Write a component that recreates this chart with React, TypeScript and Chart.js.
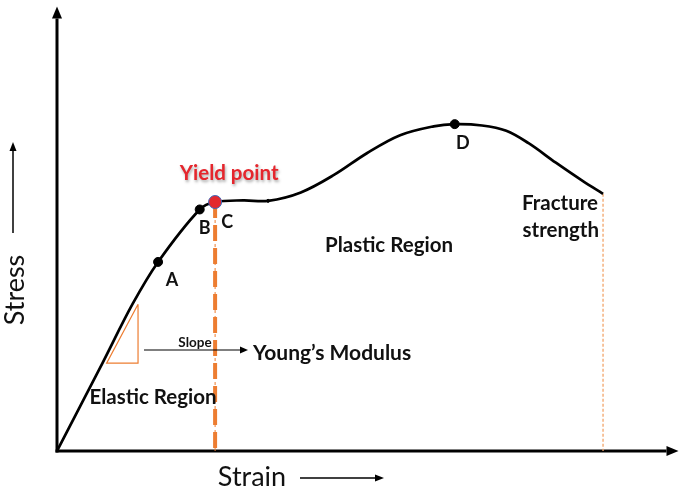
import { useEffect, useRef } from 'react';
import { Chart, registerables } from 'chart.js';

Chart.register(...registerables);

// Stress–strain curve (arbitrary units, 0..100 on both axes)
const strainValues = [0, 7.35, 12.14, 16.29, 23.0, 25.48, 30.03, 34.03, 39.3, 44.7, 50.0, 55.3, 60.7, 64.1, 68.5, 72.4, 76.0, 80.4, 84.7, 88.0];
const stressValues = [0, 19.87, 33.04, 42.63, 54.46, 56.14, 56.5, 56.4, 58.3, 62.3, 67.2, 71.2, 73.2, 73.7, 73.4, 72.2, 69.4, 65.0, 60.9, 58.0];

// Marked points A, B, D (black) and C (yield point, red)
const markLabels = ['A', 'B', 'D'];
const markIndices = [3, 4, 13];
const yieldIndex = 5;
const yieldLabel = 'C';
const plateauTickIndex = 7;
const fractureIndex = 19;

// Slope triangle
const triangleStrain = [13.06, 13.06, 8.0, 13.06];
const triangleStress = [33.1, 19.8, 19.8, 33.1];

const FONT = 'Lato, "Open Sans", sans-serif';

function arrow(ctx: CanvasRenderingContext2D, x1: number, y1: number, x2: number, y2: number, lw: number, head: number, hw: number) {
  const ang = Math.atan2(y2 - y1, x2 - x1);
  const bx = x2 - Math.cos(ang) * head;
  const by = y2 - Math.sin(ang) * head;
  ctx.save();
  ctx.strokeStyle = '#000';
  ctx.fillStyle = '#000';
  ctx.lineWidth = lw;
  ctx.beginPath();
  ctx.moveTo(x1, y1);
  ctx.lineTo(bx, by);
  ctx.stroke();
  ctx.beginPath();
  ctx.moveTo(x2, y2);
  ctx.lineTo(bx + Math.sin(ang) * hw, by - Math.cos(ang) * hw);
  ctx.lineTo(bx - Math.sin(ang) * hw, by + Math.cos(ang) * hw);
  ctx.closePath();
  ctx.fill();
  ctx.restore();
}

function text(ctx: CanvasRenderingContext2D, s: string, x: number, y: number, font: string, color = '#111', align: CanvasTextAlign = 'center') {
  ctx.save();
  ctx.font = font;
  ctx.fillStyle = color;
  ctx.textAlign = align;
  ctx.textBaseline = 'middle';
  ctx.fillText(s, x, y);
  ctx.restore();
}

const annotationPlugin = {
  id: 'annotations',
  beforeDatasetsDraw(chart: any) {
    const { ctx, chartArea } = chart;
    const xs = chart.scales.x;
    const ys = chart.scales.y;
    const x0 = xs.getPixelForValue(0);
    const y0 = ys.getPixelForValue(0);
    // axes with arrows
    arrow(ctx, x0, y0 + 1.5, x0, chartArea.top - 1, 3, 12, 5);
    arrow(ctx, x0 - 1.5, y0, chartArea.right + 1, y0, 3, 12, 5);
  },
  afterDatasetsDraw(chart: any) {
    const { ctx } = chart;
    const xs = chart.scales.x;
    const ys = chart.scales.y;
    const px = (i: number) => xs.getPixelForValue(strainValues[i]);
    const py = (i: number) => ys.getPixelForValue(stressValues[i]);

    // point letters
    const offs = [[14, 18], [5, 19], [8, 19]];
    markIndices.forEach((idx, k) => {
      text(ctx, markLabels[k], px(idx) + offs[k][0], py(idx) + offs[k][1], `bold 18px ${FONT}`);
    });
    text(ctx, yieldLabel, px(yieldIndex) + 12, py(yieldIndex) + 20, `bold 18px ${FONT}`);

    // yield point label with soft shadow
    ctx.save();
    ctx.shadowColor = 'rgba(0,0,0,0.35)';
    ctx.shadowBlur = 3;
    ctx.shadowOffsetX = 1;
    ctx.shadowOffsetY = 2;
    text(ctx, 'Yield point', px(yieldIndex) + 14, py(yieldIndex) - 29, `bold 20.5px ${FONT}`, '#e5262d');
    ctx.restore();

    text(ctx, 'Plastic Region', 389, 245, `bold 20.5px ${FONT}`);
    text(ctx, 'Elastic Region', 153, 397, `bold 20.5px ${FONT}`);
    text(ctx, 'Fracture', px(fractureIndex) - 5, 203, `bold 20.5px ${FONT}`, '#111', 'right');
    text(ctx, 'strength', px(fractureIndex) - 4, 230, `bold 20.5px ${FONT}`, '#111', 'right');

    // slope -> Young's modulus
    arrow(ctx, 144, 350, 248, 350, 1.2, 8, 3.5);
    text(ctx, 'Slope', 195, 343, `bold 13.5px ${FONT}`);
    text(ctx, 'Young\u2019s Modulus', 253, 353, `bold 21px ${FONT}`, '#111', 'left');

    // axis titles
    text(ctx, 'Strain', 252, 477, `27px ${FONT}`);
    arrow(ctx, 300, 478, 384, 478, 1.5, 9, 3.5);
    ctx.save();
    ctx.translate(15, 290);
    ctx.rotate(-Math.PI / 2);
    text(ctx, 'Stress', 0, 0, `27px ${FONT}`);
    ctx.restore();
    arrow(ctx, 13, 233, 13, 142, 1.5, 9, 3.5);
  },
};

export default function App() {
  const ref = useRef<HTMLCanvasElement>(null);
  useEffect(() => {
    document.body.style.margin = '0';
    const curve = strainValues.map((x, i) => ({ x, y: stressValues[i] }));
    const marks = markIndices.map((i) => ({ x: strainValues[i], y: stressValues[i] }));
    const yieldPt = [{ x: strainValues[yieldIndex], y: stressValues[yieldIndex] }];
    const tick = [{ x: strainValues[plateauTickIndex], y: stressValues[plateauTickIndex] }];
    const yieldLine = [
      { x: strainValues[yieldIndex], y: stressValues[yieldIndex] },
      { x: strainValues[yieldIndex], y: 0 },
    ];
    const fractureLine = [
      { x: strainValues[fractureIndex], y: stressValues[fractureIndex] },
      { x: strainValues[fractureIndex], y: 0 },
    ];
    const triangle = triangleStrain.map((x, i) => ({ x, y: triangleStress[i] }));

    const chart = new Chart(ref.current!, {
      type: 'scatter',
      data: {
        datasets: [
          { data: yieldPt, pointRadius: 6.5, pointBackgroundColor: '#e3282d', pointBorderColor: '#3d66b8', pointBorderWidth: 1, showLine: false },
          { data: marks, pointRadius: 4.5, pointBackgroundColor: '#000', pointBorderColor: '#000', showLine: false },
          { data: tick, pointRadius: 1.5, pointBackgroundColor: '#000', pointBorderColor: '#000', showLine: false },
          { data: curve, showLine: true, borderColor: '#000', borderWidth: 2.7, pointRadius: 0, tension: 0.35 },
          { data: yieldLine, showLine: true, borderColor: '#ed7d31', borderWidth: 4, borderDash: [16, 7], pointRadius: 0 },
          { data: yieldLine, showLine: true, borderColor: '#ed7d31', borderWidth: 1, borderDash: [3, 3], pointRadius: 0 },
          { data: fractureLine, showLine: true, borderColor: '#f2a468', borderWidth: 1.3, borderDash: [3, 2], pointRadius: 0 },
          { data: triangle, showLine: true, borderColor: '#ed7d31', borderWidth: 1.2, pointRadius: 0, tension: 0 },
        ] as any,
      },
      options: {
        responsive: false,
        animation: false,
        events: [],
        layout: { padding: { left: 57, right: 2, top: 3, bottom: 40 } },
        plugins: { legend: { display: false }, tooltip: { enabled: false } },
        scales: {
          x: { type: 'linear', min: 0, max: 100, display: false },
          y: { type: 'linear', min: 0, max: 100, display: false },
        },
      },
      plugins: [annotationPlugin],
    });
    return () => chart.destroy();
  }, []);
  return (
    <div style={{ width: 685, height: 491, background: '#fff' }}>
      <canvas ref={ref} width={685} height={491} style={{ display: 'block' }} />
    </div>
  );
}
